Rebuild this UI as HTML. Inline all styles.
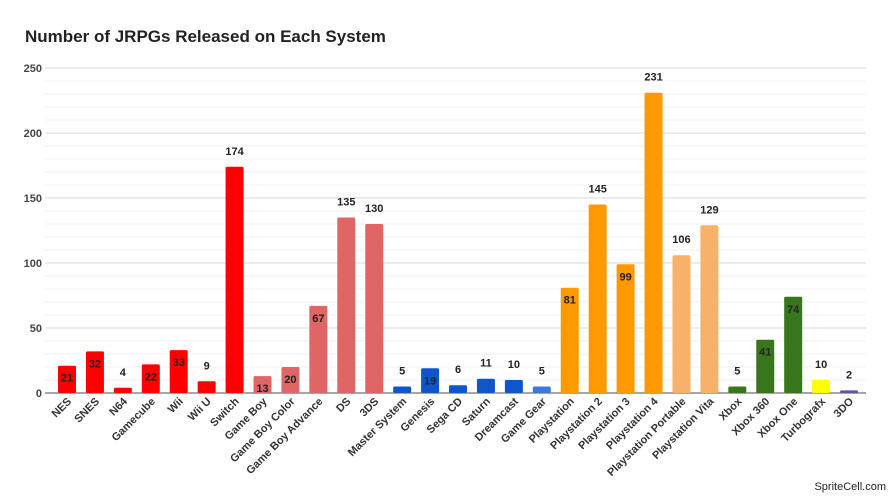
<!DOCTYPE html>
<html><head><meta charset="utf-8"><style>
body{margin:0;background:#fff;font-family:"Liberation Sans",Arial,sans-serif}
</style></head><body>
<svg id="chart" width="893" height="500" xmlns="http://www.w3.org/2000/svg" style="display:block">
<rect width="893" height="500" fill="#fff"/>
<text x="25" y="42" font-size="17" font-weight="bold" fill="#222">Number of JRPGs Released on Each System</text>
<g id="grid"></g><g id="bars"></g><g id="labels"></g><g id="xlabels"></g>
<text x="886" y="490" font-size="11" fill="#222" text-anchor="end">SpriteCell.com</text>
</svg>
<script>
const categories=["NES","SNES","N64","Gamecube","Wii","Wii U","Switch","Game Boy","Game Boy Color","Game Boy Advance","DS","3DS","Master System","Genesis","Sega CD","Saturn","Dreamcast","Game Gear","Playstation","Playstation 2","Playstation 3","Playstation 4","Playstation Portable","Playstation Vita","Xbox","Xbox 360","Xbox One","Turbografx","3DO"];
const values=[21,32,4,22,33,9,174,13,20,67,135,130,5,19,6,11,10,5,81,145,99,231,106,129,5,41,74,10,2];
const labelInside=[1,1,0,1,1,0,0,1,1,1,0,0,0,1,0,0,0,0,1,0,1,0,0,0,0,1,1,0,0];
const colorGroups=["r","r","r","r","r","r","r","p","p","p","p","p","b","b","b","b","b","lb","o","o","o","o","lo","lo","g","g","g","y","v"];
const palette={r:"#ff0000",p:"#e06666",b:"#1155cc",lb:"#3c78d8",o:"#ff9900",lo:"#f6b26b",g:"#38761d",y:"#ffff00",v:"#674ea7"};
const yTicks=[0,50,100,150,200,250];
const NS="http://www.w3.org/2000/svg";
const y0=393,y250=68,x0=58,step=27.93,bw=18;
const yS=v=>y0-(y0-y250)*v/250;
const xS=i=>x0+i*step;
function mk(t,a,p){const e=document.createElementNS(NS,t);for(const k in a)e.setAttribute(k,a[k]);p.appendChild(e);return e;}
const grid=document.getElementById('grid');
for(let v=10;v<=250;v+=10){if(v%50){const l=mk('line',{x1:45,x2:866,y1:yS(v),y2:yS(v),stroke:'#f1f1f1'},grid);

}}
yTicks.forEach(v=>{const l=mk('line',{x1:45,x2:866,y1:yS(v),y2:yS(v),stroke:v?'#d9d9d9':'#888','stroke-width':v?1:1.5},grid);


const t=mk('text',{x:42,y:yS(v)+4,'font-size':11,'font-weight':'bold','text-anchor':'end',fill:'#444'},grid);t.textContent=v;

});
const bars=document.getElementById('bars'),labs=document.getElementById('labels'),xl=document.getElementById('xlabels');
categories.forEach((c,i)=>{const v=values[i],x=xS(i),top=yS(v);
const r=mk('rect',{x:x,y:top,width:bw,height:y0-top,rx:1.5,fill:palette[colorGroups[i]]},bars);


const ty=labelInside[i]?top+16:top-12;
const t=mk('text',{x:x+bw/2,y:ty,'font-size':11,'font-weight':'bold','text-anchor':'middle',fill:'#222'},labs);t.textContent=v;


const cx=x+bw/2+5,cy=402;
const xt=mk('text',{x:cx,y:cy,'font-size':11,'font-weight':'bold','text-anchor':'end',fill:'#333',transform:`rotate(-45 ${cx} ${cy})`},xl);xt.textContent=c;

});
</script>
</body></html>
